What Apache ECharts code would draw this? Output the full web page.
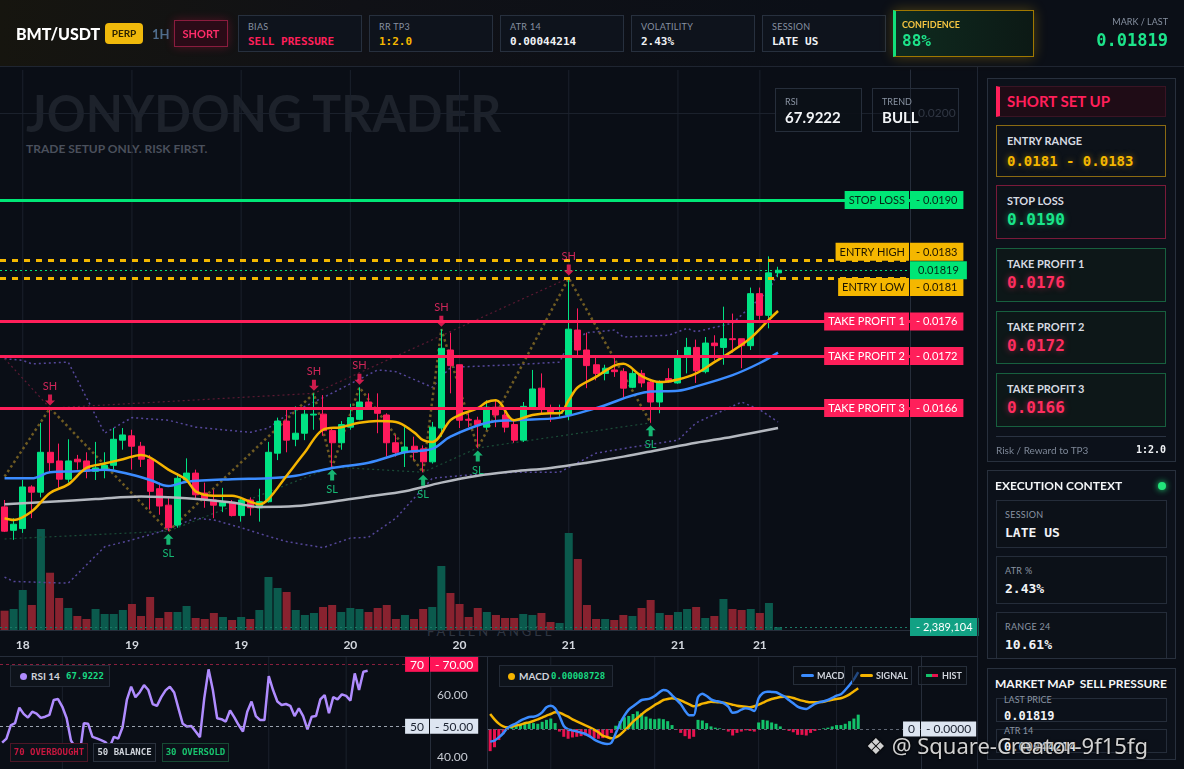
<!DOCTYPE html>
<html><head><meta charset="utf-8">
<script src="https://cdn.jsdelivr.net/npm/echarts@6.0.0/dist/echarts.min.js"></script>
<style>
html,body{margin:0;padding:0;background:#0a0e16;}
body{width:1184px;height:769px;overflow:hidden;position:relative;font-family:Lato,"Noto Sans",sans-serif;color:#e8ebf0;}
.a{position:absolute;box-sizing:border-box;}
.mono{font-family:"DejaVu Sans Mono",monospace;font-weight:bold;}
#chart{position:absolute;left:0;top:0;width:1184px;height:769px;z-index:2;}
.ov{z-index:3;}
.stat{top:15px;width:124px;height:37px;border:1px solid #27303e;background:#0e131c;z-index:3;}
.lab{position:absolute;left:9px;top:5px;font-size:9px;line-height:11px;color:#8791a1;letter-spacing:.3px;}
.val{position:absolute;left:9px;top:19px;font-size:11px;line-height:13px;}
.card{left:996px;width:170px;z-index:3;background:#0d1219;}
.ct{position:absolute;left:10px;top:8px;font-size:11px;font-weight:bold;color:#d7dbe2;line-height:14px;}
.cv{position:absolute;left:10px;top:24px;font-size:16px;line-height:20px;}
.sub{left:996px;width:171px;height:48px;border:1px solid #252d3a;background:#0c1118;z-index:3;}
.sl{position:absolute;left:8px;top:8px;font-size:9px;color:#8a94a3;line-height:11px;letter-spacing:.3px;}
.sv{position:absolute;left:8px;top:24px;font-size:13px;line-height:16px;color:#f1f3f6;}
.badge{top:743px;height:19px;border:1px solid;background:#0c1119;font-size:9px;line-height:17px;text-align:center;z-index:3;}
.lg{top:666px;height:19px;border:1px solid #262e3a;background:rgba(12,16,24,.55);font-size:9px;font-weight:bold;color:#d0d4dc;line-height:17px;z-index:3;}
</style></head><body>

<!-- background layer -->
<div class="a" style="left:0;top:0;width:1184px;height:67px;background:linear-gradient(90deg,#16150f 0%,#101116 30%,#0b0f17 70%);border-bottom:1px solid #1f2531;z-index:1;"></div>
<div class="a" style="left:26px;top:86px;font-size:52px;font-weight:bold;line-height:52px;color:#1d222b;white-space:nowrap;z-index:1;transform:scaleX(0.928);transform-origin:0 0;">JONYDONG TRADER</div>
<div class="a" style="left:26px;top:143px;font-size:12px;font-weight:bold;line-height:12px;color:#4a505c;white-space:nowrap;z-index:1;">TRADE SETUP ONLY. RISK FIRST.</div>
<div class="a" style="left:427px;top:625px;font-size:13px;line-height:13px;letter-spacing:3px;color:#2f3541;white-space:nowrap;z-index:1;">FALLEN ANGEL</div>

<div id="chart"></div>

<!-- frame lines -->
<div class="a ov" style="left:977px;top:67px;width:1px;height:702px;background:#1f2633;"></div>
<div class="a ov" style="left:0;top:656px;width:978px;height:1px;background:#262d3a;"></div>
<div class="a ov" style="left:487px;top:656px;width:1px;height:113px;background:#262d3a;"></div>

<!-- top bar -->
<div class="a ov" style="left:16px;top:23px;font-size:16px;font-weight:900;line-height:22px;color:#fff;">BMT/USDT</div>
<div class="a ov" style="left:105px;top:23px;width:38px;height:21px;border-radius:4px;background:#f0b90b;color:#2b2200;font-size:10px;font-weight:bold;line-height:21px;text-align:center;">PERP</div>
<div class="a ov" style="left:152px;top:26px;font-size:13px;font-weight:bold;line-height:16px;color:#4f6d8c;">1H</div>
<div class="a ov" style="left:174px;top:20px;width:54px;height:27px;border:1px solid #8a1c3e;background:#2a0b17;color:#ff2d6a;font-size:11px;font-weight:bold;line-height:25px;text-align:center;box-shadow:0 0 10px rgba(255,20,80,.25);">SHORT</div>

<div class="a stat" style="left:238px;"><div class="lab">BIAS</div><div class="val mono" style="color:#ff1f5a;">SELL PRESSURE</div></div>
<div class="a stat" style="left:369px;"><div class="lab">RR TP3</div><div class="val mono" style="color:#f5b700;">1:2.0</div></div>
<div class="a stat" style="left:500px;"><div class="lab">ATR 14</div><div class="val mono" style="color:#f0f2f5;">0.00044214</div></div>
<div class="a stat" style="left:631px;"><div class="lab">VOLATILITY</div><div class="val mono" style="color:#f0f2f5;">2.43%</div></div>
<div class="a stat" style="left:762px;"><div class="lab">SESSION</div><div class="val mono" style="color:#f0f2f5;">LATE US</div></div>

<div class="a ov" style="left:893px;top:10px;width:141px;height:47px;border:1px solid #a07800;border-left:3px solid #12e07a;background:linear-gradient(90deg,#0f2b1f,#0c1915);box-shadow:0 0 12px rgba(240,185,11,.3);">
  <div style="position:absolute;left:6px;top:8px;font-size:9px;line-height:11px;color:#f5c542;font-weight:bold;">CONFIDENCE</div>
  <div class="mono" style="position:absolute;left:6px;top:20px;font-size:16px;line-height:20px;color:#1de38a;">88%</div>
</div>
<div class="a ov" style="right:16px;top:16px;font-size:9px;line-height:11px;color:#8791a1;text-align:right;">MARK / LAST</div>
<div class="a ov mono" style="right:16px;top:30px;font-size:17px;line-height:21px;color:#1de38a;text-align:right;">0.01819</div>

<!-- RSI / TREND boxes -->
<div class="a ov" style="left:775px;top:88px;width:87px;height:44px;border:1px solid #262e3b;background:rgba(12,16,24,.92);">
  <div style="position:absolute;left:9px;top:7px;font-size:9px;line-height:11px;color:#8a94a3;">RSI</div>
  <div style="position:absolute;left:9px;top:19px;font-size:15px;font-weight:bold;line-height:18px;color:#f2f4f7;">67.9222</div>
</div>
<div class="a ov" style="left:872px;top:88px;width:87px;height:44px;border:1px solid #262e3b;background:rgba(10,14,22,.25);">
  <div style="position:absolute;left:9px;top:7px;font-size:9px;line-height:11px;color:#8a94a3;">TREND</div>
  <div style="position:absolute;left:9px;top:19px;font-size:15px;font-weight:bold;line-height:18px;color:#f2f4f7;">BULL</div>
</div>

<!-- right panel 1 -->
<div class="a" style="left:987px;top:78px;width:189px;height:384px;border:1px solid #28303d;background:#0c111a;z-index:3;"></div>
<div class="a ov" style="left:996px;top:86px;width:170px;height:31px;background:#1f0c16;border:1px solid #3a1424;border-left:4px solid #ff1f5a;">
  <div style="position:absolute;left:7px;top:0;font-size:15px;font-weight:bold;line-height:29px;color:#ff1f5a;">SHORT SET UP</div>
</div>
<div class="a card" style="top:125px;height:52px;border:1px solid #8a6a12;">
  <div class="ct">ENTRY RANGE</div><div class="cv mono" style="font-size:14px;top:25px;color:#f5b700;text-shadow:0 0 6px rgba(245,183,0,.5);">0.0181 - 0.0183</div>
</div>
<div class="a card" style="top:185px;height:54px;border:1px solid #7a1a3a;">
  <div class="ct">STOP LOSS</div><div class="cv mono" style="color:#19e58a;text-shadow:0 0 6px rgba(25,229,138,.5);">0.0190</div>
</div>
<div class="a card" style="top:248px;height:54px;border:1px solid #17603f;background:#0d1718;">
  <div class="ct">TAKE PROFIT 1</div><div class="cv mono" style="color:#ff2d5f;text-shadow:0 0 6px rgba(255,45,95,.5);">0.0176</div>
</div>
<div class="a card" style="top:311px;height:53px;border:1px solid #17603f;background:#0d1718;">
  <div class="ct">TAKE PROFIT 2</div><div class="cv mono" style="color:#ff2d5f;text-shadow:0 0 6px rgba(255,45,95,.5);">0.0172</div>
</div>
<div class="a card" style="top:373px;height:54px;border:1px solid #17603f;background:#0d1718;">
  <div class="ct">TAKE PROFIT 3</div><div class="cv mono" style="color:#ff2d5f;text-shadow:0 0 6px rgba(255,45,95,.5);">0.0166</div>
</div>
<div class="a ov" style="left:996px;top:436px;width:170px;height:1px;background:#2a3342;"></div>
<div class="a ov" style="left:996px;top:444px;font-size:10px;line-height:12px;color:#7d8797;">Risk / Reward to TP3</div>
<div class="a ov mono" style="left:1120px;width:46px;top:444px;font-size:10px;line-height:12px;color:#f0f2f5;text-align:right;">1:2.0</div>

<!-- right panel 2 -->
<div class="a" style="left:987px;top:470px;width:189px;height:189px;border:1px solid #28303d;background:#0c111a;z-index:3;"></div>
<div class="a ov" style="left:995px;top:478px;font-size:12px;font-weight:bold;line-height:16px;color:#f4f6f8;">EXECUTION CONTEXT</div>
<div class="a ov" style="left:1158px;top:482px;width:8px;height:8px;border-radius:50%;background:#22e57a;box-shadow:0 0 6px #22e57a;"></div>
<div class="a sub" style="top:500px;"><div class="sl">SESSION</div><div class="sv mono">LATE US</div></div>
<div class="a sub" style="top:556px;"><div class="sl">ATR %</div><div class="sv mono">2.43%</div></div>
<div class="a sub" style="top:612px;height:46px;border-bottom:none;"><div class="sl">RANGE 24</div><div class="sv mono">10.61%</div></div>

<!-- right panel 3 -->
<div class="a" style="left:987px;top:668px;width:189px;height:92px;border:1px solid #28303d;background:#0c111a;z-index:3;"></div>
<div class="a ov" style="left:995px;top:676px;font-size:12px;font-weight:bold;line-height:15px;color:#f4f6f8;">MARKET MAP</div>
<div class="a ov" style="left:1060px;width:107px;top:676px;font-size:12px;font-weight:bold;line-height:15px;color:#f4f6f8;text-align:right;">SELL PRESSURE</div>
<div class="a ov" style="left:996px;top:698px;width:171px;height:24px;border:1px solid #252d3a;"></div>
<div class="a ov" style="left:1004px;top:694px;font-size:9px;line-height:11px;color:#8a94a3;">LAST PRICE</div>
<div class="a ov mono" style="left:1004px;top:709px;font-size:12px;line-height:15px;color:#f1f3f6;">0.01819</div>
<div class="a ov" style="left:996px;top:729px;width:171px;height:24px;border:1px solid #252d3a;"></div>
<div class="a ov" style="left:1004px;top:725px;font-size:9px;line-height:11px;color:#8a94a3;">ATR 14</div>
<div class="a ov mono" style="left:1004px;top:740px;font-size:12px;line-height:15px;color:#f1f3f6;">0.00044214</div>

<!-- RSI legend + badges -->
<div class="a ov" style="left:10px;top:665px;width:100px;height:22px;border:1px solid #232a36;background:#0e131b;">
  <div style="position:absolute;left:9px;top:7px;width:7px;height:7px;border-radius:50%;background:#b08cff;"></div>
  <div style="position:absolute;left:20px;top:4px;font-size:10px;font-weight:bold;line-height:12px;color:#d0d4dc;">RSI 14</div>
  <div class="mono" style="position:absolute;left:55px;top:4px;font-size:9px;line-height:12px;color:#18d982;">67.9222</div>
</div>
<div class="a badge mono" style="left:10px;width:78px;color:#c8173f;border-color:#4d1626;">70 OVERBOUGHT</div>
<div class="a badge mono" style="left:93px;width:63px;color:#cfd3da;border-color:#2b323e;">50 BALANCE</div>
<div class="a badge mono" style="left:162px;width:67px;color:#18c46e;border-color:#164a33;">30 OVERSOLD</div>

<!-- MACD legends -->
<div class="a ov" style="left:499px;top:665px;width:114px;height:22px;border:1px solid #232a36;background:#0e131b;">
  <div style="position:absolute;left:8px;top:7px;width:7px;height:7px;border-radius:50%;background:#f5b400;"></div>
  <div style="position:absolute;left:19px;top:4px;font-size:10px;font-weight:bold;line-height:12px;color:#d0d4dc;">MACD</div>
  <div class="mono" style="position:absolute;left:51px;top:4px;font-size:9px;line-height:12px;color:#18d982;">0.00008728</div>
</div>
<div class="a lg" style="left:793px;width:52px;"><span style="position:absolute;left:7px;top:7px;width:13px;height:3px;border-radius:2px;background:#3b8cff;"></span><span style="position:absolute;left:23px;">MACD</span></div>
<div class="a lg" style="left:852px;width:60px;"><span style="position:absolute;left:7px;top:7px;width:13px;height:3px;border-radius:2px;background:#f5b400;"></span><span style="position:absolute;left:23px;">SIGNAL</span></div>
<div class="a lg" style="left:918px;width:49px;"><span style="position:absolute;left:7px;top:7px;width:6px;height:3px;background:#13c26a;"></span><span style="position:absolute;left:13px;top:7px;width:6px;height:3px;background:#e8124f;"></span><span style="position:absolute;left:23px;">HIST</span></div>

<!-- watermark -->
<div class="a" style="left:866px;top:731px;font-size:22px;line-height:28px;color:rgba(255,255,255,.82);text-shadow:0 0 2px #000,0 0 3px #000;white-space:nowrap;z-index:4;font-family:'Noto Sans',sans-serif;">&#10070; @ Square-Creator-9f15fg</div>

<script>
// ---------- data ----------
const SLOTS = 100;
const tickIdx = [2, 14, 26, 38, 50, 62, 74, 83];
const tickLabels = ['18', '19', '19', '20', '20', '21', '21', '21'];
const rsiGridIdx = [14, 62, 80];
const macdGridIdx = [14, 38, 62, 80];

// [open, close, low, high]
const ohlc = [
 [0.01546,0.01518,0.01517,0.01554],[0.01519,0.01526,0.01508,0.01533],[0.01521,0.01569,0.01516,0.01577],[0.01569,0.01563,0.01533,0.01571],
 [0.01563,0.01609,0.01557,0.01643],[0.01609,0.01597,0.01586,0.01660],[0.01599,0.01578,0.01568,0.01619],[0.01578,0.01599,0.01574,0.01624],
 [0.01601,0.01598,0.01589,0.01606],[0.01599,0.01587,0.01579,0.01609],[0.01587,0.01591,0.01577,0.01621],[0.01589,0.01594,0.01579,0.01609],
 [0.01594,0.01624,0.01589,0.01637],[0.01623,0.01629,0.01612,0.01637],[0.01628,0.01616,0.01589,0.01635],[0.01616,0.01601,0.01592,0.01621],
 [0.01601,0.01564,0.01543,0.01606],[0.01567,0.01547,0.01537,0.01574],[0.01548,0.01522,0.01518,0.01556],[0.01525,0.01579,0.01522,0.01585],
 [0.01577,0.01585,0.01574,0.01602],[0.01585,0.01560,0.01554,0.01589],[0.01562,0.01555,0.01545,0.01574],[0.01554,0.01548,0.01533,0.01566],
 [0.01547,0.01551,0.01540,0.01568],[0.01551,0.01536,0.01535,0.01554],[0.01536,0.01554,0.01529,0.01557],[0.01554,0.01545,0.01536,0.01557],
 [0.01545,0.01552,0.01529,0.01567],[0.01552,0.01609,0.01551,0.01621],[0.01608,0.01645,0.01600,0.01649],[0.01645,0.01623,0.01609,0.01658],
 [0.01624,0.01631,0.01616,0.01662],[0.01631,0.01653,0.01623,0.01660],[0.01652,0.01653,0.01635,0.01677],[0.01653,0.01634,0.01628,0.01675],
 [0.01634,0.01620,0.01592,0.01638],[0.01620,0.01641,0.01612,0.01645],[0.01638,0.01649,0.01635,0.01665],[0.01647,0.01667,0.01646,0.01684],
 [0.01667,0.01661,0.01658,0.01677],[0.01660,0.01654,0.01631,0.01677],[0.01652,0.01620,0.01604,0.01654],[0.01620,0.01609,0.01604,0.01629],
 [0.01609,0.01615,0.01592,0.01638],[0.01616,0.01609,0.01600,0.01627],[0.01613,0.01598,0.01586,0.01617],[0.01598,0.01638,0.01596,0.01644],
 [0.01637,0.01729,0.01627,0.01751],[0.01727,0.01709,0.01677,0.01747],[0.01710,0.01646,0.01637,0.01710],[0.01647,0.01646,0.01638,0.01654],
 [0.01646,0.01641,0.01614,0.01650],[0.01638,0.01661,0.01635,0.01669],[0.01661,0.01652,0.01638,0.01669],[0.01652,0.01638,0.01632,0.01658],
 [0.01641,0.01623,0.01620,0.01646],[0.01623,0.01662,0.01621,0.01667],[0.01661,0.01682,0.01658,0.01704],[0.01683,0.01661,0.01654,0.01700],
 [0.01658,0.01655,0.01644,0.01664],[0.01654,0.01655,0.01650,0.01664],[0.01652,0.01751,0.01646,0.01810],[0.01750,0.01727,0.01721,0.01775],
 [0.01727,0.01709,0.01683,0.01747],[0.01710,0.01700,0.01692,0.01718],[0.01700,0.01706,0.01692,0.01710],[0.01704,0.01702,0.01696,0.01718],
 [0.01702,0.01683,0.01672,0.01706],[0.01684,0.01700,0.01683,0.01704],[0.01700,0.01689,0.01684,0.01704],[0.01690,0.01667,0.01643,0.01692],
 [0.01667,0.01690,0.01654,0.01692],[0.01694,0.01690,0.01689,0.01706],[0.01689,0.01719,0.01688,0.01727],[0.01719,0.01730,0.01700,0.01741],
 [0.01730,0.01703,0.01689,0.01739],[0.01702,0.01735,0.01700,0.01742],[0.01735,0.01732,0.01715,0.01744],[0.01730,0.01740,0.01710,0.01777],
 [0.01740,0.01739,0.01724,0.01769],[0.01740,0.01732,0.01706,0.01740],[0.01732,0.01792,0.01727,0.01799],[0.01792,0.01767,0.01762,0.01799],
 [0.01767,0.01816,0.01752,0.01835],[0.01816,0.01819,0.01811,0.01823]
];

// volume in millions
const volumeM = [15.79,17.18,32.72,20.45,82.62,46.87,26.18,18.00,11.45,9.00,17.18,13.09,13.09,16.36,21.27,11.45,27.00,9.82,14.72,14.72,
 19.63,9.82,9.00,13.91,10.63,8.18,10.63,9.00,16.36,43.35,34.36,31.08,16.36,12.27,13.91,18.81,20.45,14.72,18.00,17.18,
 14.72,18.00,20.45,9.00,12.27,9.00,17.18,18.81,52.35,30.27,21.27,10.63,18.00,14.72,12.27,9.82,9.82,13.09,12.27,13.91,
 6.54,5.73,79.35,58.08,20.45,9.00,9.00,8.18,12.27,11.45,18.00,24.54,13.91,12.27,14.72,17.18,18.81,9.82,11.45,25.36,
 17.18,16.36,17.18,13.91,22.09,2.389104];

const emaFast = [[0,0.01533],[1,0.01531],[3,0.01541],[5,0.01562],[7,0.01572],[9,0.01591],[11,0.01596],[13,0.01601],[15,0.01606],[16,0.01603],
 [18,0.01589],[20,0.01577],[21,0.01564],[23,0.01559],[25,0.01559],[27,0.01552],[28,0.01549],[29,0.01555],[31,0.01582],[33,0.01609],
 [35,0.01635],[37,0.01638],[39,0.01643],[41,0.01645],[43,0.01644],[45,0.01632],[46,0.01623],[47,0.01621],[49,0.01646],[50,0.01652],
 [52,0.01660],[53,0.01667],[54,0.01669],[56,0.01646],[58,0.01652],[60,0.01654],[61,0.01654],[62,0.01669],[63,0.01684],[65,0.01696],
 [67,0.01709],[68,0.01711],[70,0.01697],[72,0.01690],[74,0.01693],[76,0.01700],[78,0.01713],[80,0.01726],[82,0.01741],[84,0.01762],[85,0.01772]];
const emaMid = [[0,0.01579],[3,0.01579],[5,0.01586],[8,0.01587],[11,0.01589],[14,0.01583],[16,0.01577],[18,0.01570],[20,0.01575],[25,0.01578],
 [29,0.01579],[32,0.01582],[36,0.01591],[40,0.01597],[44,0.01609],[47,0.01613],[49,0.01627],[53,0.01643],[56,0.01646],[61,0.01649],
 [65,0.01660],[71,0.01679],[74,0.01680],[76,0.01685],[80,0.01698],[83,0.01712],[85,0.01724]];
const emaSlow = [[0,0.01549],[5,0.01552],[10,0.01555],[15,0.01558],[20,0.01556],[25,0.01551],[28,0.01546],[32,0.01547],[36,0.01552],[40,0.01558],
 [44,0.01564],[48,0.01574],[52,0.01582],[56,0.01587],[60,0.01591],[64,0.01597],[68,0.01604],[72,0.01612],[76,0.01620],[80,0.01627],[85,0.01637]];
const bandUpper = [[0,0.01717],[2,0.01715],[3,0.01711],[7,0.01713],[11,0.01631],[14,0.01649],[18,0.01646],[21,0.01638],[27,0.01632],[29,0.01637],
 [31,0.01652],[35,0.01672],[41,0.01704],[43,0.01702],[47,0.01684],[49,0.01707],[56,0.01710],[61,0.01713],[62,0.01735],[64,0.01747],
 [67,0.01750],[68,0.01742],[73,0.01744],[75,0.01752],[76,0.01748],[80,0.01758],[84,0.01796],[85,0.01816]];
const bandLower = [[0,0.01465],[1,0.01460],[7,0.01458],[11,0.01500],[14,0.01508],[17,0.01517],[21,0.01533],[23,0.01531],[26,0.01522],[29,0.01512],
 [31,0.01506],[35,0.01499],[38,0.01510],[40,0.01511],[43,0.01533],[47,0.01579],[50,0.01582],[56,0.01586],[61,0.01586],[65,0.01608],
 [69,0.01615],[74,0.01623],[76,0.01643],[81,0.01667],[83,0.01658],[85,0.01644]];
const zigzag = [[0,0.01581],[5,0.01660],[18,0.01518],[34,0.01677],[36,0.01592],[39,0.01684],[46,0.01586],[48,0.01751],[52,0.01614],[62,0.01810],[71,0.01643]];
const resistLine = [[0,0.01717],[5,0.01660],[34,0.01677],[62,0.01810]];
const supportLine = [[0,0.01509],[18,0.01518],[36,0.01592],[46,0.01586],[52,0.01614],[71,0.01643]];
const swingHighIdx = [5, 34, 39, 48, 62];
const swingLowIdx = [18, 36, 46, 52, 71];

const levelNames = ['STOP LOSS', 'ENTRY HIGH', 'ENTRY LOW', 'TAKE PROFIT 1', 'TAKE PROFIT 2', 'TAKE PROFIT 3'];
const levelValues = [0.0190, 0.0183, 0.0181, 0.0176, 0.0172, 0.0166];
const lastPrice = 0.01819;

const rsi = [44.7,46.0,50.3,51.0,56.0,54.0,52.8,54.7,54.1,52.7,53.1,53.7,58.5,58.8,56.3,52.6,45.4,43.2,40.6,51.0,
 50.8,46.6,46.1,45.5,44.9,43.2,46.6,46.0,49.7,58.5,62.8,59.4,61.0,63.3,61.7,57.2,56.6,59.4,61.6,62.8,
 60.9,55.8,50.8,49.9,50.1,48.3,46.5,59.0,68.4,61.7,52.6,52.3,51.5,55.1,52.9,50.4,48.3,54.7,58.0,53.3,
 52.0,52.0,66.2,61.7,58.0,56.9,57.2,56.6,53.3,55.8,53.3,49.0,53.1,53.3,58.7,60.1,54.2,59.4,58.7,60.3,
 59.8,58.3,67.1,61.7,67.6,67.92];

// MACD values in micro units (x 1e-6)
const macdMicro = [-19.4,-17.9,-12.8,-6.6,1.5,5.6,8.7,12.8,15.9,18.4,18.9,21.0,25.6,33.2,35.8,31.7,19.9,4.6,-0.5,-2.0,
 -3.6,-5.6,-7.7,-11.3,-15.9,-19.4,-22.0,-23.0,-21.0,-6.6,8.7,20.5,29.7,34.8,39.9,44.5,45.5,47.1,50.6,55.8,
 59.8,58.3,51.7,45.0,38.4,28.1,21.0,21.0,48.6,54.2,50.6,45.5,43.0,41.9,39.4,34.3,25.1,26.1,29.7,31.7,
 30.7,27.6,47.1,55.2,57.3,56.8,56.3,53.2,49.6,44.5,39.4,34.3,31.7,30.7,34.3,38.4,40.9,42.5,44.5,47.6,
 51.2,53.2,59.8,67.5,76.2,87.28];
const signalMicro = [23.0,14.8,8.2,4.1,2.6,3.6,5.6,6.6,8.7,10.2,12.3,14.8,17.4,20.5,23.0,25.6,25.1,22.0,18.9,14.8,
 11.8,8.7,5.6,2.6,-1.0,-5.1,-10.2,-12.3,-14.3,-12.8,-8.7,-2.6,4.1,11.3,16.9,22.5,28.1,32.2,36.8,40.4,
 44.5,46.0,47.1,46.0,44.0,40.9,37.9,34.8,36.3,38.9,40.4,41.9,41.4,40.9,40.4,38.9,37.3,35.8,34.8,34.3,
 33.2,34.8,37.3,40.4,43.5,46.0,47.6,49.1,49.6,49.1,47.6,45.5,43.5,41.9,40.9,40.9,41.4,41.9,43.5,45.0,
 46.0,47.1,49.6,53.2,57.8,62.4];
const histMicro = [-34,-28,-17,-8,1,4,6,8,9,11,9,8,11,14,16,9,-4,-12,-15,-13,
 -12,-11,-10,-12,-14,-15,-14,-12,-6,5,12,18,20,23,27,24,19,16,15,16,
 15,12,6,-1,-6,-11,-15,-12,14,13,9,4,2,1,-1,-4,-10,-6,-4,-2,
 -3,-4,10,14,13,10,8,4,-1,-3,-5,-9,-9,-10,-6,-3,-1,1,2,4,
 6,6,8,12,16,22];

// ---------- chart ----------
const UI = 'Lato, "Noto Sans", sans-serif';
const GREEN = '#00e383', RED = '#ff1a5c';
const PMIN = 0.01404, PMAX = 0.0205, RMIN = 36.2, RMAX = 72.7, MMIN = -61.4, MMAX = 112;
const cats = Array.from({length: SLOTS}, (_, i) => String(i));

function tag(text, bg, fg, pos, shift, fs, hpad) {
  fs = fs || 11;
  const hp = hpad == null ? 6 : hpad;
  const pad = shift > 0 ? [0, 0, 2 * shift, 0] : (shift < 0 ? [-2 * shift, 0, 0, 0] : [0, 0, 0, 0]);
  return {
    show: true, position: pos, distance: pos === 'end' ? 0 : 1,
    formatter: '{t|' + text + '}', padding: pad,
    rich: { t: { backgroundColor: bg, color: fg, fontSize: fs, fontFamily: UI,
      padding: fs > 11 ? [2, 5, 1, 5] : [4, hp, 3, hp], lineHeight: fs > 11 ? 12 : 11 } }
  };
}
function vlines(idx, ax, lo, hi) {
  return idx.map(i => ({ type: 'line', xAxisIndex: ax, yAxisIndex: ax, data: [[i, lo], [i, hi]],
    symbol: 'none', silent: true, animation: false, z: 0, lineStyle: { color: '#1b212c', width: 1 } }));
}
function dotted(data, color, width, dash, z) {
  return { type: 'line', xAxisIndex: 0, yAxisIndex: 0, data, symbol: 'none', silent: true, z: z || 1,
    lineStyle: { color, width, type: dash } };
}
function ma(data, color) {
  return { type: 'line', xAxisIndex: 0, yAxisIndex: 0, data, symbol: 'none', silent: true, smooth: 0.35, z: 4,
    lineStyle: { color, width: 2.5 } };
}

const levelLook = [
  { line: '#00e676', bg: '#00e676', fg: '#062716', type: 'solid', w: 3, shift: 0 },
  { line: '#f5b700', bg: '#f5b700', fg: '#1e1600', type: [6, 6], w: 3, shift: 9 },
  { line: '#f5b700', bg: '#f5b700', fg: '#1e1600', type: [6, 6], w: 3, shift: -9 },
  { line: '#ff1f5a', bg: '#ff1f5a', fg: '#ffffff', type: 'solid', w: 3, shift: 0 },
  { line: '#ff1f5a', bg: '#ff1f5a', fg: '#ffffff', type: 'solid', w: 3, shift: 0 },
  { line: '#ff1f5a', bg: '#ff1f5a', fg: '#ffffff', type: 'solid', w: 3, shift: 0 }
];
const levelML = [];
levelValues.forEach((v, k) => {
  const L = levelLook[k];
  levelML.push({ yAxis: v, lineStyle: { color: L.line, width: L.w, type: L.type }, label: tag('- ' + v.toFixed(4), L.bg, L.fg, 'end', L.shift, 11, 6) });
  levelML.push({ yAxis: v, lineStyle: { color: 'rgba(0,0,0,0)', width: 0 }, label: tag(levelNames[k], L.bg, L.fg, 'insideEnd', L.shift, 11, 4) });
});
levelML.push({ yAxis: lastPrice, lineStyle: { color: '#00e676', width: 1, type: [2, 3] }, label: tag(lastPrice.toFixed(5), '#00e676', '#062716', 'end', 0, 11, 8) });

const lastVol = volumeM[volumeM.length - 1];
const volData = volumeM.map((v, i) => ({ value: v, itemStyle: { color: ohlc[i][1] >= ohlc[i][0] ? '#0b5a4d' : '#88222f' } }));
const histData = histMicro.map(v => ({ value: v, itemStyle: { color: v >= 0 ? '#13c26a' : '#e8124f' } }));

const hiddenX = (g) => ({ type: 'category', gridIndex: g, data: cats, boundaryGap: true,
  axisLine: { show: false }, axisTick: { show: false }, axisLabel: { show: false }, splitLine: { show: false } });

const option = {
  backgroundColor: 'transparent',
  animation: false,
  grid: [
    { left: 0, top: 70, width: 910, height: 560, outerBoundsMode: 'none' },
    { left: 0, top: 520, width: 910, height: 110, outerBoundsMode: 'none' },
    { left: 0, top: 656, width: 430, height: 113, outerBoundsMode: 'none' },
    { left: 488, top: 656, width: 433, height: 113, outerBoundsMode: 'none' }
  ],
  xAxis: [
    hiddenX(0),
    { type: 'category', gridIndex: 1, data: cats, boundaryGap: true,
      axisLine: { show: true, lineStyle: { color: '#262d3a' } }, axisTick: { show: false }, splitLine: { show: false },
      axisLabel: { show: true, interval: (i) => tickIdx.indexOf(i) >= 0,
        formatter: (val, i) => { const k = tickIdx.indexOf(i); return k >= 0 ? tickLabels[k] : ''; },
        color: '#d3d7de', fontWeight: 'bold', fontSize: 12, fontFamily: UI, margin: 9 } },
    hiddenX(2),
    hiddenX(3)
  ],
  yAxis: [
    { type: 'value', gridIndex: 0, position: 'right', min: PMIN, max: PMAX,
      axisLine: { show: true, lineStyle: { color: '#262d3a' } }, axisTick: { show: false }, splitLine: { show: false },
      axisLabel: { color: '#3c4351', fontSize: 12, fontFamily: UI, margin: 8,
        formatter: (v) => Math.abs(v - 0.02) < 1e-9 ? '0.0200' : '' } },
    { type: 'value', gridIndex: 1, min: 0, max: 90, show: false },
    { type: 'value', gridIndex: 2, position: 'right', min: RMIN, max: RMAX,
      axisLine: { show: true, lineStyle: { color: '#262d3a' } }, axisTick: { show: false }, splitLine: { show: false },
      axisLabel: { color: '#c8ccd4', fontSize: 12, fontFamily: UI, margin: 7,
        formatter: (v) => (Math.abs(v - 40) < 1e-6 || Math.abs(v - 60) < 1e-6) ? v.toFixed(2) : '' } },
    { type: 'value', gridIndex: 3, position: 'right', min: MMIN, max: MMAX,
      axisLine: { show: true, lineStyle: { color: '#262d3a' } }, axisTick: { show: false }, splitLine: { show: false },
      axisLabel: { show: false } }
  ],
  series: [
    ...vlines(tickIdx, 0, PMIN, PMAX),
    { type: 'line', xAxisIndex: 0, yAxisIndex: 0, data: [], symbol: 'none', silent: true, z: 0,
      markLine: { symbol: ['none', 'none'], silent: true, animation: false, precision: 6, label: { show: false },
        lineStyle: { color: '#1b212c', width: 1, type: 'solid' }, data: [{ yAxis: 0.02 }] } },
    ...vlines(rsiGridIdx, 2, RMIN, RMAX),
    ...vlines(macdGridIdx, 3, MMIN, MMAX),
    dotted(bandUpper, '#55479a', 1.5, [2, 3]),
    dotted(bandLower, '#55479a', 1.5, [2, 3]),
    dotted(resistLine, '#5c1a33', 1.2, [2, 3]),
    dotted(supportLine, '#1b4d38', 1.2, [2, 3]),
    dotted(zigzag, '#6f5b22', 2.5, [2.5, 3]),
    { type: 'candlestick', xAxisIndex: 0, yAxisIndex: 0, data: ohlc, barWidth: 6.5, z: 2, silent: true,
      itemStyle: { color: GREEN, color0: RED, borderColor: GREEN, borderColor0: RED, borderWidth: 1 },
      markLine: { symbol: ['none', 'none'], silent: true, animation: false, precision: 6, data: levelML } },
    ma(emaSlow, '#b4b8bf'),
    ma(emaMid, '#3b8cff'),
    ma(emaFast, '#f5b400'),
    { type: 'scatter', xAxisIndex: 0, yAxisIndex: 0, data: swingHighIdx.map(i => [i, ohlc[i][3]]), silent: true, z: 6,
      symbol: 'path://M3,0L7,0L7,6L10,6L5,11L0,6L3,6Z', symbolSize: [10, 11], symbolOffset: [0, -8],
      itemStyle: { color: '#ff1f5a' },
      label: { show: true, formatter: 'SH', position: 'top', distance: 3, color: '#ff2d6a', fontSize: 11, fontFamily: UI } },
    { type: 'scatter', xAxisIndex: 0, yAxisIndex: 0, data: swingLowIdx.map(i => [i, ohlc[i][2]]), silent: true, z: 6,
      symbol: 'path://M5,0L10,5L7,5L7,11L3,11L3,5L0,5Z', symbolSize: [10, 11], symbolOffset: [0, 8],
      itemStyle: { color: '#19e08a' },
      label: { show: true, formatter: 'SL', position: 'bottom', distance: 3, color: '#19e08a', fontSize: 11, fontFamily: UI } },
    { type: 'bar', xAxisIndex: 1, yAxisIndex: 1, data: volData, barWidth: 8, silent: true, z: 1,
      markLine: { symbol: ['none', 'none'], silent: true, animation: false, precision: 6,
        data: [{ yAxis: lastVol, lineStyle: { color: '#1b7a66', width: 1, type: [2, 3] },
          label: tag('- ' + Math.round(lastVol * 1e6).toLocaleString('en-US'), '#12a184', '#ffffff', 'end', 0, 11, 6) }] } },
    { type: 'line', xAxisIndex: 2, yAxisIndex: 2, data: rsi, symbol: 'none', silent: true, z: 3,
      lineStyle: { color: '#b08cff', width: 2.5 },
      markLine: { symbol: ['none', 'none'], silent: true, animation: false, data: [
        { yAxis: 70, lineStyle: { color: '#8a1f3d', width: 1, type: [3, 3] }, label: tag('- 70.00', '#ff1457', '#ffffff', 'end', 0, 12) },
        { yAxis: 70, lineStyle: { color: 'rgba(0,0,0,0)', width: 0 }, label: tag('70', '#ff1457', '#ffffff', 'insideEnd', 0, 12) },
        { yAxis: 50, lineStyle: { color: '#9aa2ae', width: 1, type: [3, 3] }, label: tag('- 50.00', '#dde5f1', '#1b2230', 'end', 0, 12) },
        { yAxis: 50, lineStyle: { color: 'rgba(0,0,0,0)', width: 0 }, label: tag('50', '#dde5f1', '#1b2230', 'insideEnd', 0, 12) }
      ] } },
    { type: 'bar', xAxisIndex: 3, yAxisIndex: 3, data: histData, barWidth: 3, silent: true, z: 2,
      markLine: { symbol: ['none', 'none'], silent: true, animation: false, data: [
        { yAxis: 0, lineStyle: { color: '#5f6673', width: 1, type: [3, 3] }, label: tag('- 0.0000', '#dde5f1', '#1b2230', 'end', 0, 12) },
        { yAxis: 0, lineStyle: { color: 'rgba(0,0,0,0)', width: 0 }, label: tag('0', '#dde5f1', '#1b2230', 'insideEnd', 0, 12) }
      ] } },
    { type: 'line', xAxisIndex: 3, yAxisIndex: 3, data: signalMicro, symbol: 'none', silent: true, z: 3, smooth: 0.3,
      lineStyle: { color: '#f5b400', width: 2.5 } },
    { type: 'line', xAxisIndex: 3, yAxisIndex: 3, data: macdMicro, symbol: 'none', silent: true, z: 4, smooth: 0.3,
      lineStyle: { color: '#3b8cff', width: 2.5 } }
  ]
};
const chart = echarts.init(document.getElementById('chart'), null, { renderer: 'canvas' });
chart.setOption(option);
</script>
</body></html>
